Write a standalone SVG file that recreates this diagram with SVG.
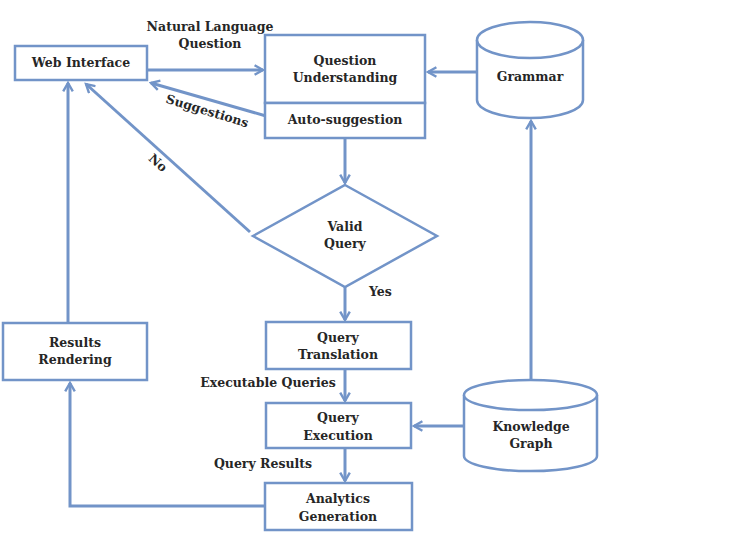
<svg xmlns="http://www.w3.org/2000/svg" width="731" height="536" viewBox="0 0 731 536">
<style>
.box{fill:#fff;stroke:#7294c8;stroke-width:2.5}
.ln{fill:none;stroke:#7294c8;stroke-width:3;marker-end:url(#ah)}
.t{font-family:"DejaVu Serif","Liberation Serif",serif;font-size:12.5px;font-weight:bold;fill:#262626;text-anchor:middle}
.l{font-family:"DejaVu Serif","Liberation Serif",serif;font-size:12.5px;font-weight:bold;fill:#262626}
</style>
<defs>
<marker id="ah" viewBox="0 0 10 10" refX="8" refY="5" markerWidth="4" markerHeight="4" orient="auto" markerUnits="strokeWidth">
<path d="M1,1 L8,5 L1,9" fill="none" stroke="#7294c8" stroke-width="2"/>
</marker>
</defs>
<rect width="731" height="536" fill="#fff"/>
<g id="connectors">
<line class="ln" x1="147" y1="70" x2="263" y2="70"/>
<line class="ln" x1="477" y1="72" x2="428" y2="72"/>
<line class="ln" x1="266" y1="116" x2="151" y2="83"/>
<line class="ln" x1="250" y1="232" x2="86" y2="84"/>
<line class="ln" x1="68" y1="323" x2="68" y2="83"/>
<line class="ln" x1="345" y1="138" x2="345" y2="183"/>
<line class="ln" x1="345" y1="287" x2="345" y2="320"/>
<line class="ln" x1="345" y1="370" x2="345" y2="401"/>
<line class="ln" x1="345" y1="448" x2="345" y2="481"/>
<line class="ln" x1="464" y1="426" x2="414" y2="426"/>
<line class="ln" x1="531" y1="381" x2="531" y2="121"/>
<polyline class="ln" points="265,506 70,506 70,383"/>
<text class="t" x="210" y="31">Natural Language</text>
<text class="t" x="210" y="48">Question</text>
<text class="t" transform="translate(206,115) rotate(17)">Suggestions</text>
<text class="t" transform="translate(155,166) rotate(42)">No</text>
<text class="l" x="369" y="296">Yes</text>
<text class="t" x="268" y="387">Executable Queries</text>
<text class="t" x="263" y="468">Query Results</text>
</g>
<g id="web-interface">
<rect class="box" x="15" y="46" width="132" height="34"/>
<text class="t" x="81" y="67">Web Interface</text>
</g>
<g id="question-understanding">
<rect class="box" x="265" y="35" width="160" height="68"/>
<text class="t" x="345" y="65">Question</text>
<text class="t" x="345" y="82">Understanding</text>
</g>
<g id="auto-suggestion">
<rect class="box" x="265" y="103" width="160" height="35"/>
<text class="t" x="345" y="124">Auto-suggestion</text>
</g>
<g id="grammar">
<path class="box" d="M477,40 L477,100 A53,18 0 0 0 583,100 L583,40 A53,18 0 0 0 477,40 Z"/>
<path class="box" d="M477,40 A53,18 0 0 0 583,40" fill="none"/>
<text class="t" x="530" y="81">Grammar</text>
</g>
<g id="valid-query">
<polygon class="box" points="345,185 437,236 345,287 253,236"/>
<text class="t" x="345" y="231">Valid</text>
<text class="t" x="345" y="248">Query</text>
</g>
<g id="results-rendering">
<rect class="box" x="3" y="323" width="144" height="57"/>
<text class="t" x="75" y="347">Results</text>
<text class="t" x="75" y="364">Rendering</text>
</g>
<g id="query-translation">
<rect class="box" x="266" y="322" width="145" height="47"/>
<text class="t" x="338" y="342">Query</text>
<text class="t" x="338" y="359">Translation</text>
</g>
<g id="query-execution">
<rect class="box" x="266" y="403" width="145" height="45"/>
<text class="t" x="338" y="422">Query</text>
<text class="t" x="338" y="440">Execution</text>
</g>
<g id="analytics-generation">
<rect class="box" x="265" y="483" width="147" height="47"/>
<text class="t" x="338" y="503">Analytics</text>
<text class="t" x="338" y="521">Generation</text>
</g>
<g id="knowledge-graph">
<path class="box" d="M464,395 L464,456 A66,15 0 0 0 597,456 L597,395 A66,15 0 0 0 464,395 Z"/>
<path class="box" d="M464,395 A66,15 0 0 0 597,395" fill="none"/>
<text class="t" x="531" y="431">Knowledge</text>
<text class="t" x="531" y="448">Graph</text>
</g>
</svg>
